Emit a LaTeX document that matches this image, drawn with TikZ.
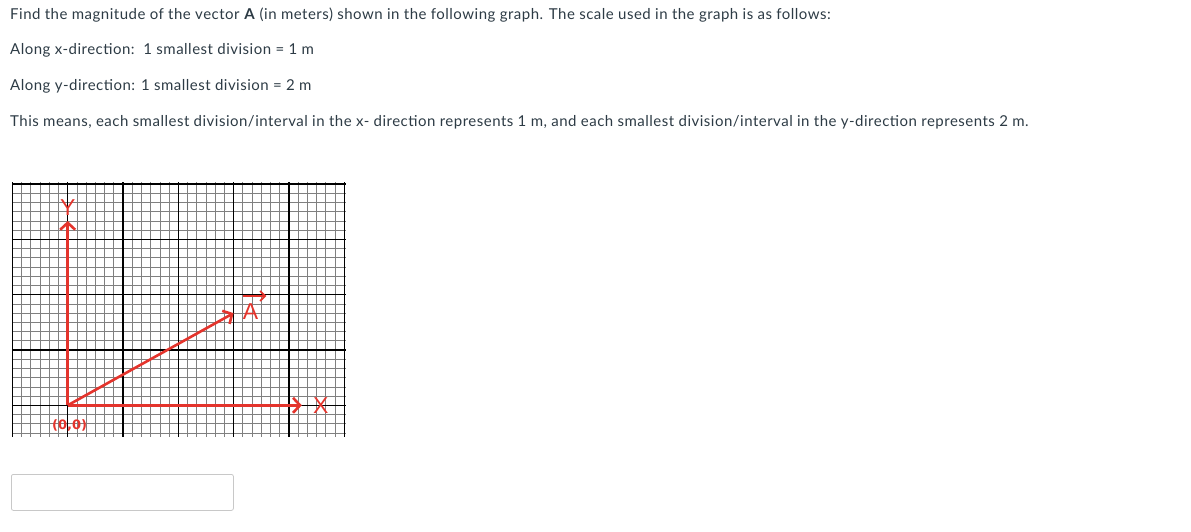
\documentclass[tikz,border=0pt]{standalone}
\usepackage{fontspec}
\setmainfont{Lato}[LetterSpace=3.3]
\newfontfamily\handfont{Liberation Sans}
\newfontfamily\originfont{DejaVu Sans}
\usetikzlibrary{arrows.meta,positioning}
\definecolor{penred}{RGB}{228,52,44}
\definecolor{inkgray}{RGB}{45,59,69}
\definecolor{boxgray}{RGB}{200,200,200}

\begin{document}
\begin{tikzpicture}[x=1pt, y=-1pt,
    textline/.style={anchor=base west, inner sep=0pt, text=inkgray, font=\fontsize{15}{17}\selectfont},
    minorline/.style={black!50, line width=0.7pt},
    majorline/.style={black, line width=1.2pt},
    redarrow/.style={draw=penred, line width=2.6pt, -{Straight Barb[length=7pt,width=15pt]}},
    handlabel/.style={text=penred, inner sep=0pt, font=\handfont\fontsize{23}{23}\selectfont}]
    \useasboundingbox (0,0) rectangle (1191,532);

    % Question text
    \node (q1) [textline] at (10,20) {Find the magnitude of the vector \textbf{A} (in meters) shown in the following graph. The scale used in the graph is as follows:};
    \node (q2) [textline] at (10,55) {Along x-direction:\ \ 1 smallest division = 1 m};
    \node (q3) [textline] at (10,91) {Along y-direction: 1 smallest division = 2 m};
    \node (q4) [textline] at (10,127) {This means, each smallest division/interval in the x- direction represents 1 m, and each smallest division/interval in the y-direction represents 2 m.};

    % Answer box
    \node (answer) [draw=boxgray, line width=0.8pt, rounded corners=2pt, minimum width=222pt, minimum height=36pt, inner sep=0pt, anchor=north west] at (11,474) {};

    % Graph paper
    \begin{scope}[shift={(67.7,405.3)}, x=9.2167pt, y=9.2167pt]
        \foreach \i in {-6,...,30} \draw[minorline] (\i,-3.4) -- (\i,24.2);
        \foreach \j in {-3,...,24} \draw[minorline] (-6,\j) -- (30.2,\j);
        \foreach \i in {-6,0,...,30} \draw[majorline] (\i,-3.4) -- (\i,24.2);
        \foreach \j in {0,6,...,24} \draw[majorline] (-6,\j) -- (30.2,\j);

        % Nodes
        \coordinate (O) at (0,0);
        \coordinate (ytip) at (0,20);
        \coordinate (xtip) at (25.4,0);
        \coordinate (atip) at (18,10);

        % Arrows
        \draw [redarrow] (O) -- (ytip);
        \draw [redarrow] (O) -- (xtip);
        \draw [redarrow] (O) -- (atip);

        % Labels
        \node (ylabel) [handlabel, above=5pt of ytip] {Y};
        \node (xlabel) [handlabel, right=11pt of xtip] {X};
        \node (alabel) [handlabel, right=9pt of atip, yshift=2pt] {A};
        \draw [penred, line width=1.8pt, -{Straight Barb[length=5pt,width=10pt]}]
            ([yshift=7pt]alabel.north west) -- ([xshift=8pt,yshift=7pt]alabel.north east);
        \node (origin) [text=penred, inner sep=0pt, font=\originfont\bfseries\fontsize{13}{13}\selectfont, below=14pt of O, xshift=2pt] {(0,0)};
    \end{scope}
\end{tikzpicture}
\end{document}
